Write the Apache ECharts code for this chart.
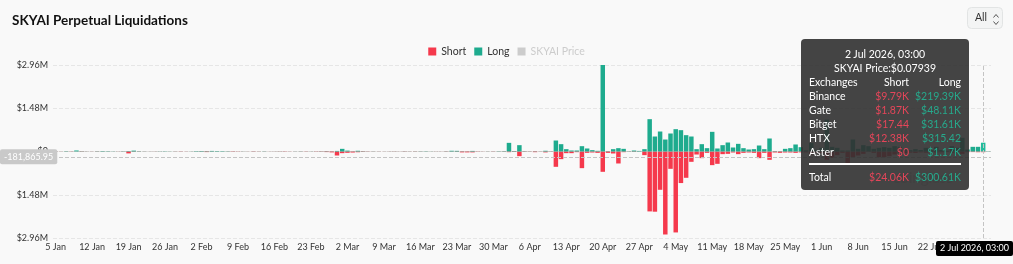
<!DOCTYPE html>
<html>
<head>
<meta charset="utf-8">
<title>SKYAI Perpetual Liquidations</title>
<script src="https://cdn.jsdelivr.net/npm/echarts@6/dist/echarts.min.js"></script>
<style>
  html, body { margin: 0; padding: 0; background: #f9f9f9; }
  #chart { width: 1013px; height: 264px; }
</style>
</head>
<body>
<div id="chart"></div>
<script>
// daily liquidations in thousands of USD, first day is 5 Jan 2026
const startDay = '2026-01-05';
const dayTime = '03:00';

const longLiq = [
  8, 3, 12, 5, 35, 10, 6, 4, 9, 15,
  12, 8, 5, 10, 15, 30, 10, 6, 4, 5,
  8, 10, 6, 5, 4, 3, 6,
  15, 18, 12, 20, 16, 14, 10,
  5, 4, 6, 3, 5, 4, 8,
  3, 5, 6, 4, 3, 5, 7,
  4, 6, 5, 8, 10, 6, 20,
  91, 30, 8, 25, 10, 5, 6,
  4, 3, 5, 6, 4, 7, 5,
  6, 8, 10, 6, 5, 4, 8,
  25, 22, 8, 6, 20, 5, 4,
  6, 5, 10,
  12, 296, 15, 217, 10, 6, 8, 5, 25, 8,
  376, 251, 80, 34, 34, 182, 103, 46, 23, 2960,
  11, 80, 114, 91, 10, 34, 20, 80, 1106, 513,
  684, 410, 616, 764, 730, 559, 513, 80, 251, 114,
  673, 103, 217, 308, 137, 262, 114, 68, 80, 205,
  80, 445, 12, 11, 91, 114, 240, 148, 40, 290,
  60, 125, 1090, 160, 125, 34, 34, 410, 91, 217,
  182, 91, 125, 148, 125, 182, 160, 60, 45, 80,
  50, 125, 40, 160, 50, 30, 182, 125, 468, 68,
  160, 160, 300.61, 10
];

const shortLiq = [
  10, 4, 6, 8, 5, 12, 6, 5, 8, 6,
  5, 4, 6, 7, 65, 12, 8, 5, 4, 6,
  5, 4, 3, 6, 8, 5, 4,
  6, 10, 20, 8, 5, 4, 6,
  12, 8, 5, 4, 10, 6, 5,
  4, 6, 8, 10, 5, 4, 6,
  8, 5, 10, 12, 20, 30, 137,
  57, 45, 35, 25, 15, 8, 6,
  5, 4, 6, 8, 5, 10, 6,
  8, 6, 5, 4, 6, 5, 10,
  8, 12, 30, 30, 30, 10, 6,
  5, 8, 6,
  10, 23, 15, 160, 12, 8, 23, 6, 30, 10,
  524, 262, 57, 57, 23, 570, 46, 34, 46, 695,
  46, 68, 410, 23, 8, 15, 6, 125, 2050, 2060,
  1310, 2840, 593, 2770, 1080, 900, 353, 103, 228, 46,
  467, 422, 91, 80, 34, 91, 46, 34, 46, 228,
  46, 285, 34, 46, 34, 34, 46, 30, 30, 100,
  40, 60, 280, 217, 125, 45, 445, 194, 137, 80,
  15, 45, 194, 194, 160, 103, 45, 60, 40, 50,
  30, 40, 20, 30, 25, 20, 40, 30, 80, 23,
  20, 25, 24.06, 5
];

// price points that are known (series is switched off in the legend)
const priceDays = ['2026-07-02'];
const priceValues = [0.07939];

// exchange breakdown of the highlighted day, thousands of USD
const hoverDay = '2026-07-02';
const exchanges = ['Binance', 'Gate', 'Bitget', 'HTX', 'Aster'];
const exShort = [9.79, 1.87, 0.01744, 12.38, 0];
const exLong = [219.39, 48.11, 31.61, 0.31542, 1.17];

const pointerValue = -181865.95;
const yMax = 2960000;
const yStep = 1480000;

const months = ['Jan', 'Feb', 'Mar', 'Apr', 'May', 'Jun', 'Jul', 'Aug', 'Sep', 'Oct', 'Nov', 'Dec'];

// one category per day
const days = [];
const d0 = new Date(startDay + 'T00:00:00Z');
for (let i = 0; i < longLiq.length; i++) {
  const d = new Date(d0.getTime() + i * 86400000);
  days.push(d.toISOString().slice(0, 10));
}

function dayLabel(s) {
  const p = s.split('-');
  return parseInt(p[2], 10) + ' ' + months[parseInt(p[1], 10) - 1];
}
function fullLabel(s) {
  return dayLabel(s) + ' ' + s.slice(0, 4) + ', ' + dayTime;
}
function money(k) {
  if (k === 0) return '$0';
  const v = k * 1000;
  if (v >= 1000) return '$' + (v / 1000).toFixed(2) + 'K';
  return '$' + v.toFixed(2);
}

const RED = '#f5394c';
const TEAL = '#1eab8e';
const FONT = 'Lato, "Noto Sans", sans-serif';

const chart = echarts.init(document.getElementById('chart'));

const priceData = days.map(d => {
  const j = priceDays.indexOf(d);
  return j >= 0 ? priceValues[j] : null;
});

const option = {
  animation: false,
  backgroundColor: '#f9f9f9',
  textStyle: { fontFamily: FONT },
  title: {
    text: 'SKYAI Perpetual Liquidations',
    left: 7,
    top: 9,
    textStyle: { fontSize: 13.5, fontWeight: 'bold', color: '#111', fontFamily: FONT }
  },
  legend: {
    top: 41,
    left: 'center',
    itemWidth: 8,
    itemHeight: 8,
    itemGap: 8,
    icon: 'rect',
    inactiveColor: '#cccccc',
    textStyle: { fontSize: 10.5, color: '#333' },
    data: ['Short', 'Long', 'SKYAI Price'],
    selected: { 'SKYAI Price': false }
  },
  grid: { left: 53, right: 22, top: 65, bottom: 26, containLabel: false },
  tooltip: {
    trigger: 'axis',
    alwaysShowContent: true,
    position: [801, 39],
    backgroundColor: 'rgba(48,48,48,0.9)',
    borderWidth: 0,
    padding: [8, 8, 6, 8],
    extraCssText: 'border-radius:4px;box-shadow:none;',
    textStyle: { color: '#fff', fontSize: 10.5, fontFamily: FONT },
    axisPointer: {
      type: 'cross',
      lineStyle: { color: '#c4c4c4', type: 'dashed', width: 1 },
      crossStyle: { color: '#c4c4c4', type: 'dashed', width: 1 }
    },
    formatter: function (params) {
      const idx = params[0].dataIndex;
      const day = days[idx];
      const price = priceData[idx];
      const cell = 'line-height:14px;padding:0;white-space:nowrap;';
      let html = '<div style="width:152px;font-family:' + FONT.replace(/"/g, "'") + ';font-size:10.5px;">';
      html += '<div style="text-align:center;line-height:14px;">' + fullLabel(day) + '</div>';
      html += '<div style="text-align:center;line-height:14px;">SKYAI Price:' + (price != null ? '$' + price : '-') + '</div>';
      html += '<table style="border-collapse:collapse;width:152px;font-size:10.5px;color:#fff;">';
      html += '<tr><td style="' + cell + 'width:58px;">Exchanges</td><td style="' + cell + 'text-align:right;width:42px;">Short</td><td style="' + cell + 'text-align:right;">Long</td></tr>';
      if (day === hoverDay) {
        exchanges.forEach((ex, j) => {
          html += '<tr><td style="' + cell + '">' + ex + '</td>' +
            '<td style="' + cell + 'text-align:right;color:#e5465a;">' + money(exShort[j]) + '</td>' +
            '<td style="' + cell + 'text-align:right;color:#27a98c;">' + money(exLong[j]) + '</td></tr>';
        });
      }
      html += '</table>';
      html += '<div style="height:1.5px;background:#fff;margin:4px 0 5px 0;"></div>';
      html += '<table style="border-collapse:collapse;width:152px;font-size:10.5px;color:#fff;"><tr>' +
        '<td style="' + cell + 'width:58px;">Total</td>' +
        '<td style="' + cell + 'text-align:right;width:42px;color:#e5465a;">' + money(shortLiq[idx]) + '</td>' +
        '<td style="' + cell + 'text-align:right;color:#27a98c;">' + money(longLiq[idx]) + '</td></tr></table>';
      html += '</div>';
      return html;
    }
  },
  xAxis: {
    type: 'category',
    data: days,
    boundaryGap: true,
    axisLine: { show: false },
    axisTick: { show: false },
    axisLabel: {
      interval: function (i) { return i % 7 === 0; },
      formatter: dayLabel,
      fontSize: 9,
      color: '#333',
      margin: 5
    },
    axisPointer: {
      label: {
        formatter: p => fullLabel(p.value),
        backgroundColor: '#000',
        color: '#fff',
        fontSize: 9,
        padding: [3, 4],
        borderRadius: 2
      }
    }
  },
  yAxis: [
    {
      type: 'value',
      min: -yMax,
      max: yMax,
      interval: yStep,
      axisLine: { show: false },
      axisTick: { show: false },
      splitLine: { lineStyle: { color: '#e6e6e6', type: 'dashed' } },
      axisLabel: {
        fontSize: 9,
        color: '#333',
        margin: 5,
        formatter: v => v === 0 ? '$0' : '$' + (Math.abs(v) / 1e6).toFixed(2) + 'M'
      },
      axisPointer: {
        label: {
          formatter: p => Number(p.value).toLocaleString('en-US', { minimumFractionDigits: 2, maximumFractionDigits: 2 }),
          backgroundColor: '#c9c9c9',
          color: '#fff',
          fontSize: 9,
          padding: [3, 4],
          borderRadius: 2
        }
      }
    },
    { type: 'value', show: false, scale: true }
  ],
  graphic: [
    {
      type: 'text',
      left: 893,
      top: 171,
      z: 0,
      style: { text: 'coinglass', fontSize: 15, fontWeight: 600, fill: 'rgba(150,150,150,0.35)', fontFamily: FONT }
    },
    {
      type: 'rect',
      left: 967,
      top: 7,
      shape: { width: 35, height: 21, r: 4 },
      style: { fill: '#f3f4f4', stroke: '#e2e4e4', lineWidth: 1 }
    },
    {
      type: 'text',
      left: 975,
      top: 12,
      style: { text: 'All', fontSize: 10.5, fill: '#333', fontFamily: FONT }
    },
    {
      type: 'polyline',
      left: 991,
      top: 12,
      shape: { points: [[0, 3], [2.5, 0], [5, 3]] },
      style: { stroke: '#555', lineWidth: 1, fill: null }
    },
    {
      type: 'polyline',
      left: 991,
      top: 19,
      shape: { points: [[0, 0], [2.5, 3], [5, 0]] },
      style: { stroke: '#555', lineWidth: 1, fill: null }
    }
  ],
  series: [
    {
      name: 'Short',
      type: 'bar',
      stack: 'liq',
      barCategoryGap: '14%',
      itemStyle: { color: RED },
      data: shortLiq.map(v => -v * 1000)
    },
    {
      name: 'Long',
      type: 'bar',
      stack: 'liq',
      barCategoryGap: '14%',
      itemStyle: { color: TEAL },
      data: longLiq.map(v => v * 1000)
    },
    {
      name: 'SKYAI Price',
      type: 'line',
      yAxisIndex: 1,
      showSymbol: false,
      itemStyle: { color: '#cccccc' },
      data: priceData
    }
  ]
};

chart.setOption(option);

// show the tooltip and crosshair for the highlighted day
const px = chart.convertToPixel({ xAxisIndex: 0 }, hoverDay);
const py = chart.convertToPixel({ yAxisIndex: 0 }, pointerValue);
chart.dispatchAction({ type: 'showTip', x: px, y: py });
</script>
</body>
</html>
